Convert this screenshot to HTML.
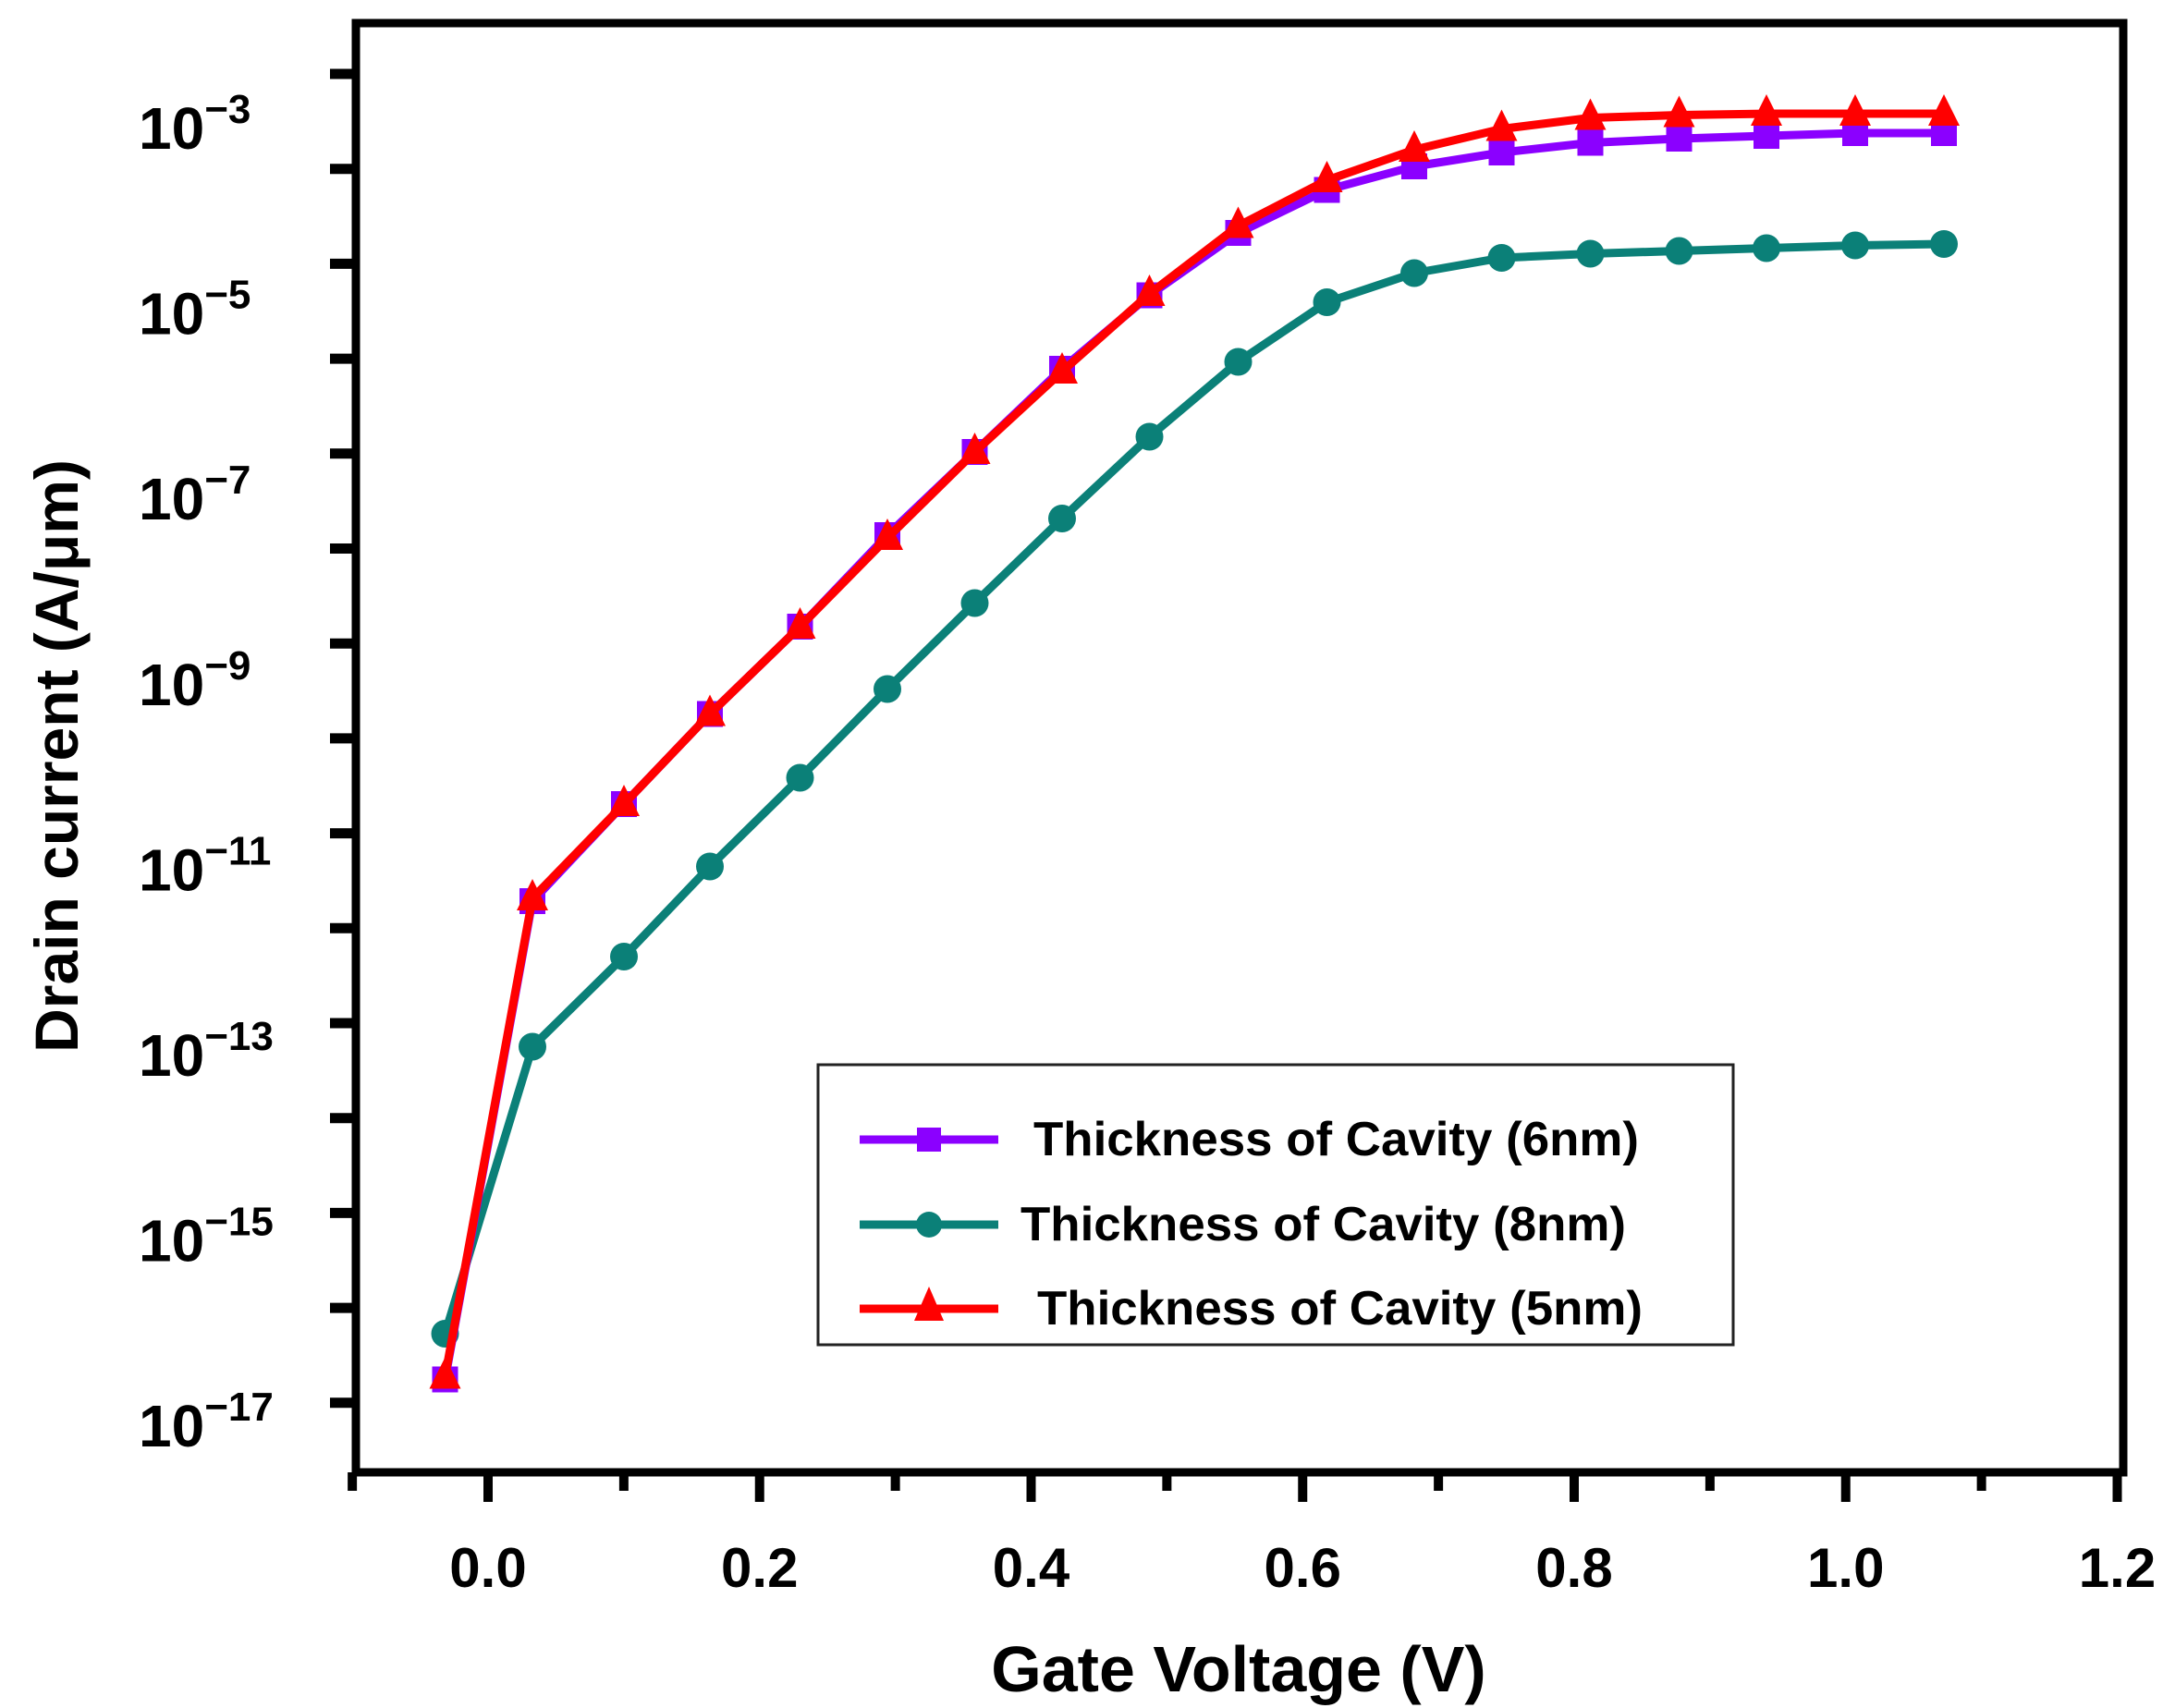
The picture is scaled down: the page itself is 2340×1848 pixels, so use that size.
<!DOCTYPE html>
<html><head><meta charset="utf-8"><style>
html,body{margin:0;padding:0;background:#fff;}
svg{display:block;}
text{font-family:"Liberation Sans",Arial,sans-serif;font-weight:bold;fill:#000;}
</style></head><body>
<svg id="s" width="2340" height="1848" viewBox="0 0 2340 1848" xmlns="http://www.w3.org/2000/svg">
<rect width="2340" height="1848" fill="#fff"/>
<g id="axes"></g>
<g id="data"></g>
<rect x="885" y="1152" width="990" height="303" fill="#fff" stroke="#222" stroke-width="3"/>
<line x1="930" y1="1233" x2="1080" y2="1233" stroke="#8b00ff" stroke-width="9"/>
<rect x="992" y="1220" width="26" height="26" fill="#8b00ff"/>
<line x1="930" y1="1325" x2="1080" y2="1325" stroke="#0b8078" stroke-width="9"/>
<circle cx="1005" cy="1325" r="14" fill="#0b8078"/>
<line x1="930" y1="1416" x2="1080" y2="1416" stroke="#ff0000" stroke-width="9"/>
<polygon points="1005,1392 1021,1429 989,1429" fill="#ff0000"/>
<text x="1118" y="1250" font-size="52" textLength="655" lengthAdjust="spacingAndGlyphs">Thickness of Cavity (6nm)</text>
<text x="1104" y="1342" font-size="52" textLength="655" lengthAdjust="spacingAndGlyphs">Thickness of Cavity (8nm)</text>
<text x="1122" y="1433" font-size="52" textLength="655" lengthAdjust="spacingAndGlyphs">Thickness of Cavity (5nm)</text>
<text x="1340" y="1830" font-size="70" text-anchor="middle">Gate Voltage (V)</text>
<text transform="translate(84,818) rotate(-90)" font-size="66" text-anchor="middle">Drain current (A/μm)</text>
</svg>
<script>
const NS="http://www.w3.org/2000/svg";
function el(p,t,a,txt){const e=document.createElementNS(NS,t);for(const k in a)e.setAttribute(k,a[k]);if(txt!=null)e.textContent=txt;p.appendChild(e);return e;}
const ax=document.getElementById('axes'),dg=document.getElementById('data');
const L=385,R=2297,T=25,B=1593;
el(ax,'rect',{x:L,y:T,width:R-L,height:B-T,fill:'none',stroke:'#000','stroke-width':9});
for(let k=0;k<15;k++){const y=80+102.7*k;if(y>B-10)break;el(ax,'line',{x1:L-28,y1:y,x2:L,y2:y,stroke:'#000','stroke-width':11});}
for(let i=0;i<8;i++){const e=-3-2*i;const y=137+(-3-e)*100.3;
 const t=el(ax,'text',{x:150,y:y+24,'font-size':64});
 t.appendChild(document.createTextNode('10'));
 el(t,'tspan',{dy:-28,'font-size':44},'\u2212'+(-e));}
const X=v=>528+v*1468.75;
for(let i=-1;i<=12;i++){const x=X(i/10);const maj=(i%2===0);
 el(ax,'line',{x1:x,y1:B,x2:x,y2:B+(maj?32:20),stroke:'#000','stroke-width':10});
 if(maj){el(ax,'text',{x:x,y:B+124,'font-size':60,'text-anchor':'middle'},(i/10).toFixed(1));}}
const xs=[321,384,450,512,577,640,703,766,829,893,957,1020,1083,1147,1211,1274,1338,1402].map(v=>v*1.5);
const red=[993,648,580,515,452,388,326,268,212,163,130,108,93,85,83,82,82,82].map(v=>v*1.5);
const pur=[995,650,580,515,452,386,326,266,213,168,137,120,110,103,100,98,96,96].map(v=>v*1.5);
const teal=[962,755,690,625,561,497,435,374,315,261,218,197,186,183,181,179,177,176].map(v=>v*1.5);
function series(ys,col,mk){el(dg,'polyline',{points:xs.map((x,i)=>x+','+ys[i]).join(' '),fill:'none',stroke:col,'stroke-width':9,'stroke-linejoin':'round'});
 xs.forEach((x,i)=>{const y=ys[i];
  if(mk==='s')el(dg,'rect',{x:x-14,y:y-14,width:28,height:28,fill:col});
  else if(mk==='c')el(dg,'circle',{cx:x,cy:y,r:15,fill:col});
  else el(dg,'polygon',{points:`${x},${y-21} ${x+17},${y+13} ${x-17},${y+13}`,fill:col});});}
series(teal,'#0b8078','c');
series(pur,'#8b00ff','s');
series(red,'#ff0000','t');
</script>
</body></html>
